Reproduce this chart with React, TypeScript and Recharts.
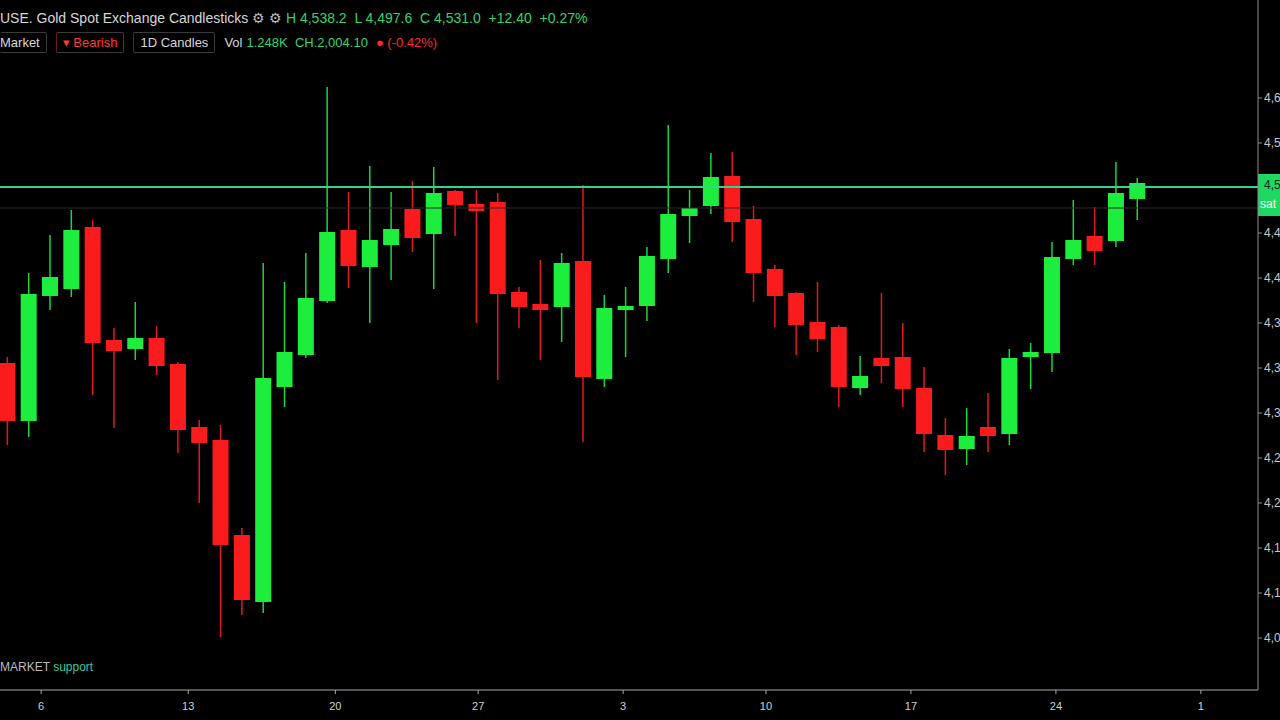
import React from "react";
import { ComposedChart, Bar, XAxis, YAxis, ReferenceLine } from "recharts";

// daily OHLC, left to right
const opens = [
  4355, 4297, 4422, 4429, 4491, 4378, 4369, 4380, 4354, 4291, 4278, 4183, 4116, 4331,
  4363, 4417, 4488, 4451, 4473, 4509, 4484, 4527, 4514, 4516, 4426, 4414, 4411, 4457,
  4339, 4408, 4412, 4459, 4502, 4512, 4542, 4499, 4449, 4425, 4396, 4391, 4330, 4360,
  4361, 4330, 4283, 4269, 4291, 4284, 4361, 4365, 4459, 4482, 4477, 4519,
];
const highs = [
  4361, 4445, 4483, 4508, 4498, 4390, 4416, 4392, 4356, 4298, 4293, 4190, 4455, 4436,
  4465, 4631, 4526, 4552, 4526, 4537, 4551, 4528, 4528, 4525, 4431, 4458, 4465, 4533,
  4423, 4431, 4471, 4593, 4528, 4565, 4566, 4512, 4453, 4426, 4436, 4393, 4362, 4425,
  4395, 4351, 4300, 4310, 4325, 4369, 4375, 4476, 4518, 4511, 4556, 4540,
];
const lows = [
  4273, 4281, 4408, 4421, 4323, 4290, 4358, 4343, 4265, 4215, 4081, 4103, 4105, 4311,
  4360, 4415, 4430, 4395, 4438, 4466, 4429, 4482, 4395, 4338, 4390, 4358, 4376, 4276,
  4331, 4361, 4397, 4445, 4475, 4504, 4476, 4416, 4391, 4363, 4366, 4311, 4323, 4335,
  4311, 4266, 4243, 4253, 4266, 4273, 4329, 4346, 4453, 4453, 4471, 4498,
];
const closes = [
  4297, 4424, 4441, 4488, 4375, 4367, 4380, 4352, 4288, 4275, 4173, 4118, 4340, 4366,
  4420, 4486, 4452, 4478, 4489, 4480, 4525, 4513, 4507, 4424, 4411, 4408, 4455, 4341,
  4410, 4412, 4462, 4504, 4510, 4541, 4496, 4445, 4422, 4393, 4379, 4331, 4342, 4352,
  4329, 4284, 4268, 4282, 4282, 4360, 4366, 4461, 4478, 4467, 4525, 4535,
];

// 4530 sits under the price tag, so it is left out
const priceTicks = [4620, 4575, 4485, 4440, 4395, 4350, 4305, 4260, 4215, 4170, 4125, 4080];
const dateTicks = [1.6, 8.5, 15.4, 22.1, 28.9, 35.6, 42.4, 49.2, 56.0];
const dateLabels = ["6", "13", "20", "27", "3", "10", "17", "24", "1"];
const lastPrice = 4531;
const prevClose = 4510;

const UP = "#1ded3c";
const DOWN = "#fa1c1c";

const data = opens.map((open, i) => ({
  i,
  open,
  high: highs[i],
  low: lows[i],
  close: closes[i],
}));

const Candle = (props: any) => {
  const { x, y, width, height, payload } = props;
  const { open, close, high, low } = payload;
  const top = Math.min(y, y + height);
  const h = Math.abs(height);
  const span = high - low || 1;
  const toY = (v: number) => top + ((high - v) / span) * h;
  const color = close >= open ? UP : DOWN;
  const bodyTop = toY(Math.max(open, close));
  const bodyBottom = toY(Math.min(open, close));
  const cx = x + width / 2;
  return (
    <g>
      <rect x={cx - 0.75} y={top} width={1.5} height={h} fill={color} opacity={0.9} />
      <rect
        x={x}
        y={bodyTop}
        width={width}
        height={Math.max(bodyBottom - bodyTop, 3)}
        fill={color}
      />
    </g>
  );
};

const PriceTag = (props: any) => {
  const { viewBox } = props;
  if (!viewBox) return null;
  const x = viewBox.x + viewBox.width;
  const y = viewBox.y;
  return (
    <g>
      <rect x={x} y={y - 13} width={24} height={42} fill="#1fd862" />
      <text x={x + 6} y={y + 2} fill="#0a2a12" fontSize={12}>
        4,531.0
      </text>
      <text x={x + 2} y={y + 21} fill="#f2fff2" fontSize={12}>
        sat 14:22
      </text>
    </g>
  );
};

const boxStyle: React.CSSProperties = {
  border: "1px solid #3a3a3a",
  borderRadius: 2,
  padding: "2px 6px",
  marginRight: 9,
};

export default function App() {
  return (
    <div
      style={{
        position: "fixed",
        left: 0,
        top: 0,
        width: 1280,
        height: 720,
        background: "#000",
        overflow: "hidden",
        fontFamily: "'Liberation Sans', Arial, sans-serif",
      }}
    >
      <ComposedChart
        width={1280}
        height={720}
        data={data}
        margin={{ top: 0, right: 0, bottom: 0, left: 0 }}
      >
        <XAxis
          dataKey="i"
          type="number"
          domain={[-0.33, 58.68]}
          allowDataOverflow
          ticks={dateTicks}
          tickFormatter={(_v: number, idx: number) => dateLabels[idx]}
          height={30}
          stroke="#a8a8a8"
          tickSize={4}
          tickMargin={8}
          tick={{ fill: "#d0d0d0", fontSize: 11 }}
        />
        <YAxis
          orientation="right"
          domain={[4028, 4718]}
          allowDataOverflow
          ticks={priceTicks}
          width={22}
          stroke="#8c8c8c"
          tickSize={4}
          tick={{ fill: "#c8c8c8", fontSize: 12, textAnchor: "start" }}
          tickFormatter={(v: number) => v.toLocaleString("en-US", { minimumFractionDigits: 1 })}
        />
        <ReferenceLine y={prevClose} stroke="#332626" strokeWidth={1} />
        <ReferenceLine y={lastPrice} stroke="#35d487" strokeWidth={2} label={<PriceTag />} />
        <Bar
          dataKey={(d: any) => [d.low, d.high]}
          barSize={16}
          shape={(p: any) => <Candle {...p} />}
          isAnimationActive={false}
        />
      </ComposedChart>

      <div
        style={{
          position: "absolute",
          left: 0,
          top: 10,
          fontSize: 14,
          color: "#d6d6d6",
          whiteSpace: "nowrap",
        }}
      >
        USE. Gold Spot Exchange Candlesticks{" "}
        <span style={{ color: "#bdbdbd" }}>⚙ ⚙</span>{" "}
        <span style={{ color: "#2fd36e" }}>
          H 4,538.2 &nbsp;L 4,497.6 &nbsp;C 4,531.0 &nbsp;+12.40 &nbsp;+0.27%
        </span>
      </div>
      <div
        style={{
          position: "absolute",
          left: 0,
          top: 32,
          fontSize: 13,
          color: "#d6d6d6",
          whiteSpace: "nowrap",
          display: "flex",
          alignItems: "center",
        }}
      >
        <span style={{ ...boxStyle, borderLeft: "none", paddingLeft: 0 }}>Market</span>
        <span style={{ ...boxStyle, color: "#ff3b3b", borderLeft: "1px solid #6a1a1a" }}>
          ▾ Bearish
        </span>
        <span style={{ ...boxStyle, borderLeft: "1px solid #6a1a1a" }}>1D Candles</span>
        <span>Vol</span>
        <span style={{ color: "#2fd36e", marginLeft: 4 }}>1.248K &nbsp;CH.2,004.10</span>
        <span style={{ color: "#ff2a2a", marginLeft: 8 }}>● (-0.42%)</span>
      </div>
      <div
        style={{
          position: "absolute",
          left: 0,
          top: 660,
          fontSize: 12,
          color: "#bcbcbc",
          whiteSpace: "nowrap",
        }}
      >
        MARKET <span style={{ color: "#31c8a0" }}>support</span>
      </div>
    </div>
  );
}
